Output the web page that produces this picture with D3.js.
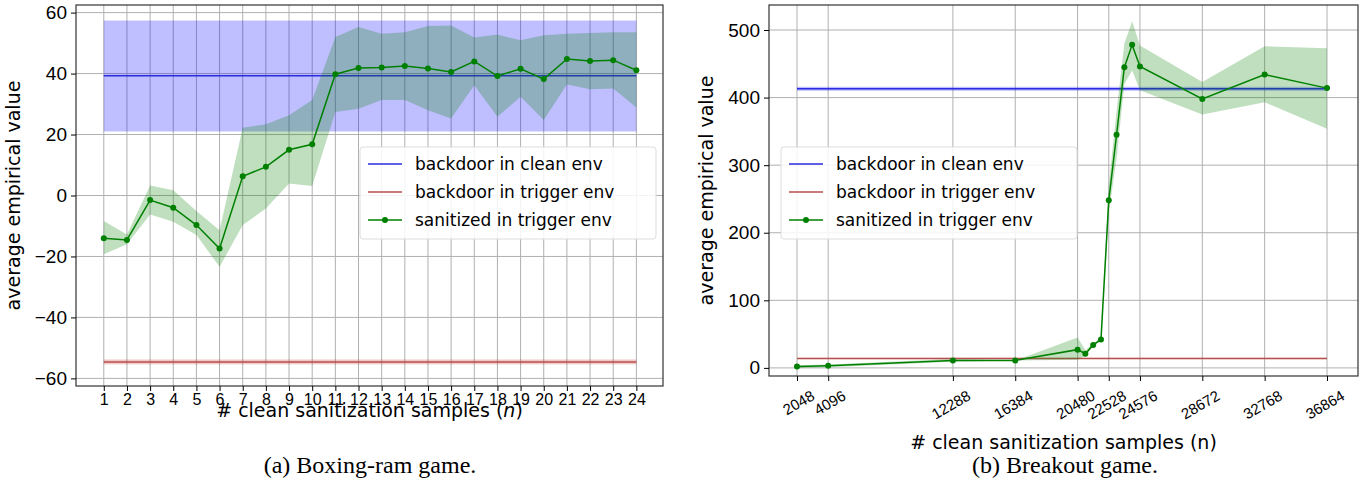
<!DOCTYPE html>
<html><head><meta charset="utf-8">
<script src="https://cdn.jsdelivr.net/npm/d3@7"></script>
<style>body{margin:0;background:#fff}svg{font-family:"DejaVu Sans",sans-serif}</style>
</head><body><svg id="c" width="1359" height="491"></svg>
<script>
// left: Boxing-ram
const boxN = d3.range(1, 25);
const boxMean = [-14,-14.6,-1.5,-4,-9.7,-17.4,6.3,9.4,15,16.8,39.8,41.8,42,42.5,41.7,40.5,44,39.2,41.6,38.2,44.8,44.1,44.4,41.1];
const boxHi = [-8.4,-12.8,3.3,1.7,-5.1,-11.4,22.2,23.4,26.3,31.3,52,55.3,53.1,53.6,55.6,55.8,51.8,52.8,50.9,52.6,53.1,53.3,53.6,53.6];
const boxLo = [-19.3,-16,-6.2,-8.6,-13,-23.4,-9.7,-4.3,3.9,3.1,27.4,28.5,31.3,31.3,28,25.3,36.2,25.8,32.4,24.8,36.4,34.9,35.1,28.9];
const boxClean = {mean: 39.3, lo: 21, hi: 57.4};
const boxTrig = {mean: -54.6, lo: -55.4, hi: -53.8};
const boxYTicks = [-60,-40,-20,0,20,40,60];

// right: Breakout
const brN = [2048,4096,12288,16384,20480,20992,21504,22016,22528,23040,23552,24064,24576,28672,32768,36864];
const brMean = [2,3,11,11,27,21,34,42,248,345,445,478,446,398,434,414];
const brHi = [4,5,13,11,45,26,36,45,270,380,480,513,477,423,476,473];
const brLo = [0,1,9,11,12,18,32,40,230,310,420,440,411,375,393,354];
const brClean = {mean: 413, lo: 410, hi: 416};
const brTrig = {mean: 14, lo: 13, hi: 15};
const brXTicks = [2048,4096,12288,16384,20480,22528,24576,28672,32768,36864];
const brYTicks = [0,100,200,300,400,500];

const svg = d3.select('#c');
const grid = '#b0b0b0';

function panel(o) {
  const g = svg.append('g');
  const x = d3.scaleLinear().domain(o.xd).range([o.l, o.r]);
  const y = d3.scaleLinear().domain(o.yd).range([o.b, o.t]);
  // grid
  o.xt.forEach(v => g.append('line').attr('x1', x(v)).attr('x2', x(v)).attr('y1', o.t).attr('y2', o.b).attr('stroke', grid).attr('stroke-width', 1));
  o.yt.forEach(v => g.append('line').attr('x1', o.l).attr('x2', o.r).attr('y1', y(v)).attr('y2', y(v)).attr('stroke', grid).attr('stroke-width', 1));
  // horizontal reference bands
  const x0 = o.xs[0], x1 = o.xs[o.xs.length - 1];
  [[o.clean, 'rgba(0,0,255,0.25)', '#2a2ae0'], [o.trig, 'rgba(200,40,40,0.25)', '#b85050']].forEach(([c, fill, line]) => {
    g.append('rect').attr('x', x(x0)).attr('width', x(x1) - x(x0)).attr('y', y(c.hi)).attr('height', y(c.lo) - y(c.hi)).attr('fill', fill);
    g.append('line').attr('x1', x(x0)).attr('x2', x(x1)).attr('y1', y(c.mean)).attr('y2', y(c.mean)).attr('stroke', line).attr('stroke-width', 1.5);
  });
  const area = d3.area().x((d, i) => x(o.xs[i])).y0((d, i) => y(o.lo[i])).y1((d, i) => y(o.hi[i]));
  g.append('path').attr('d', area(o.mean)).attr('fill', 'rgba(0,128,0,0.25)');
  const line = d3.line().x((d, i) => x(o.xs[i])).y(d => y(d));
  g.append('path').attr('d', line(o.mean)).attr('fill', 'none').attr('stroke', 'green').attr('stroke-width', 1.5);
  g.selectAll('circle.p').data(o.mean).enter().append('circle')
    .attr('cx', (d, i) => x(o.xs[i])).attr('cy', d => y(d)).attr('r', 3).attr('fill', 'green');
  // frame
  g.append('rect').attr('x', o.l).attr('y', o.t).attr('width', o.r - o.l).attr('height', o.b - o.t).attr('fill', 'none').attr('stroke', '#333').attr('stroke-width', 1.2);
  // axes
  const ya = g.append('g').attr('transform', `translate(${o.l},0)`).call(d3.axisLeft(y).tickValues(o.yt).tickSize(5).tickPadding(4));
  ya.select('.domain').remove();
  ya.selectAll('text').attr('font-size', 19).attr('fill', '#000');
  const xa = g.append('g').attr('transform', `translate(0,${o.b})`).call(d3.axisBottom(x).tickValues(o.xt).tickSize(5).tickPadding(3).tickFormat(d3.format('d')));
  xa.select('.domain').remove();
  if (o.rot) {
    xa.selectAll('text').attr('font-size', 15).attr('text-anchor', 'end').attr('dy', '0.3em')
      .attr('transform', 'translate(12,12) rotate(-30)');
  } else {
    xa.selectAll('text').attr('font-size', 16).attr('dy', '0.71em');
  }
  xa.selectAll('text').attr('fill', '#000');
  g.append('text').attr('transform', `translate(${o.l - 56},${(o.t + o.b) / 2}) rotate(-90)`)
    .attr('text-anchor', 'middle').attr('font-size', 19).text('average empirical value');
  const xl = g.append('text').attr('x', (o.l + o.r) / 2).attr('y', o.xlY).attr('text-anchor', 'middle').attr('font-size', 19);
  xl.append('tspan').text('# clean sanitization samples (');
  xl.append('tspan').attr('font-style', o.italicN ? 'italic' : 'normal').text('n');
  xl.append('tspan').text(')');
  // legend
  const lg = g.append('g').attr('transform', `translate(${o.lx},${o.ly})`);
  lg.append('rect').attr('width', 296).attr('height', 92).attr('rx', 3).attr('fill', 'rgba(255,255,255,0.85)').attr('stroke', '#ddd');
  [['backdoor in clean env', '#2a2ae0', false], ['backdoor in trigger env', '#b85050', false], ['sanitized in trigger env', 'green', true]].forEach(([t, c, dot], i) => {
    const yy = 17 + i * 28;
    lg.append('line').attr('x1', 8).attr('x2', 42).attr('y1', yy).attr('y2', yy).attr('stroke', c).attr('stroke-width', 1.5);
    if (dot) lg.append('circle').attr('cx', 25).attr('cy', yy).attr('r', 3).attr('fill', c);
    lg.append('text').attr('x', 55).attr('y', yy + 6).attr('font-size', 17).text(t);
  });
  // caption
  svg.append('text').attr('x', o.cx).attr('y', 473).attr('text-anchor', 'middle')
    .attr('font-family', '"Liberation Serif",serif').attr('font-size', 24).text(o.cap);
}

// white strip hides the bottom of the clipped right x label as in the reference
panel({xs: boxN, mean: boxMean, hi: boxHi, lo: boxLo, clean: boxClean, trig: boxTrig,
  xd: [-0.2, 25.15], yd: [-62.5, 62.5], l: 76, r: 663, t: 5, b: 386, xt: boxN, yt: boxYTicks,
  lx: 360, ly: 147, xlY: 417, italicN: true, cap: '(a) Boxing-ram game.', cx: 370});
panel({xs: brN, mean: brMean, hi: brHi, lo: brLo, clean: brClean, trig: brTrig,
  xd: [208, 38900], yd: [-12, 537], l: 769, r: 1358, t: 5, b: 376, xt: brXTicks, yt: brYTicks,
  lx: 781, ly: 147, xlY: 449, italicN: false, rot: true, cap: '(b) Breakout game.', cx: 1065});
</script></body></html>
